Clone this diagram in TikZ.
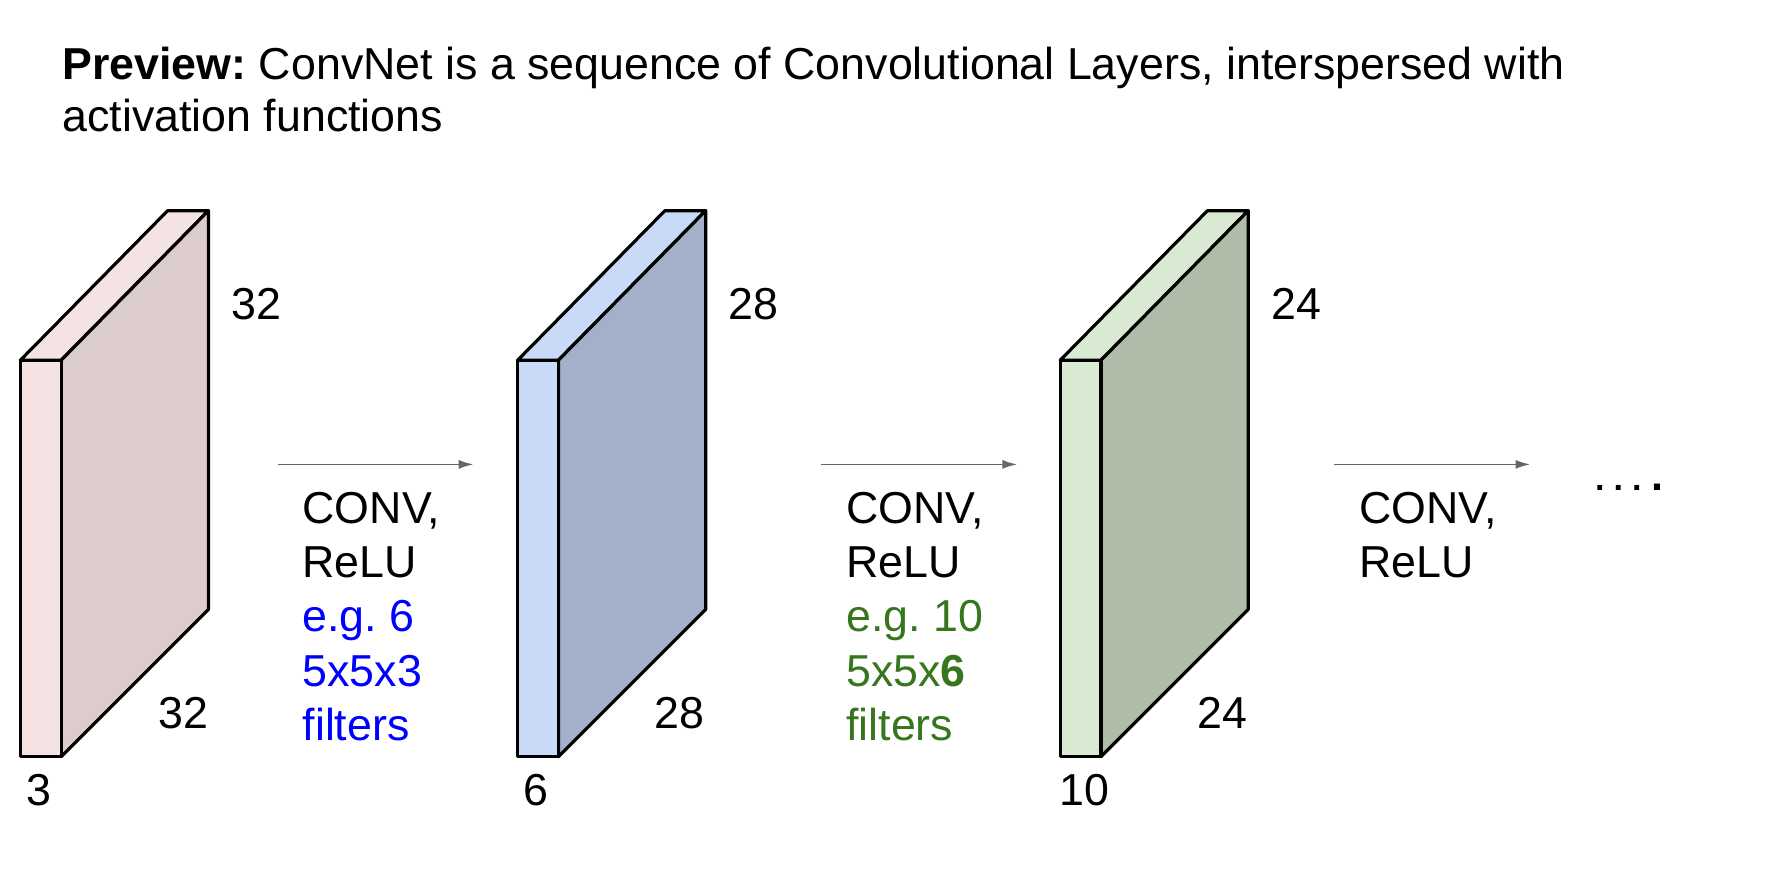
\documentclass[tikz,border=0pt]{standalone}
\usepackage{fontspec}
\setmainfont{Liberation Sans}
\usetikzlibrary{arrows.meta}
\definecolor{pf}{HTML}{F5E3E3}\definecolor{ps}{HTML}{DDCCCC}
\definecolor{bf}{HTML}{C9DAF8}\definecolor{bs}{HTML}{A2B0C8}
\definecolor{gf}{HTML}{D9EAD3}\definecolor{gs}{HTML}{AFBCA8}
\definecolor{tblue}{HTML}{0000FF}\definecolor{tgreen}{HTML}{38761D}
\definecolor{arr}{HTML}{666666}
\frenchspacing
\begin{document}
\begin{tikzpicture}[x=1pt,y=-1pt,
  edge/.style={draw=black,line width=2.8pt,line join=round},
  lbl/.style={anchor=base west,inner sep=0pt,font=\fontsize{39.5}{39.5}\selectfont},
  blk/.style={anchor=north west,inner sep=0pt,align=left,font=\fontsize{39.5}{48}\selectfont},
  flow/.style={draw=arr,line width=1.6pt,-{Latex[length=13pt,width=8pt]}}]
\useasboundingbox (0,0) rectangle (1560,773);
\node[anchor=base west,inner sep=0pt,font=\fontsize{39.5}{46}\selectfont] (title) at (55,70)
  {\textbf{Preview:} ConvNet is a sequence of Convolutional Layers, interspersed with};
\node[anchor=base west,inner sep=0pt,font=\fontsize{39.5}{46}\selectfont] (title2) at (55,116)
  {activation functions};
\foreach \x/\f/\s/\n in {18/pf/ps/a,457/bf/bs/b,936/gf/gs/c}{
  \filldraw[edge,fill=\f] (\x,318) -- (\x+130,186) -- (\x+166,186) -- (\x+36,318) -- cycle;
  \filldraw[edge,fill=\s] (\x+36,318) -- (\x+166,186) -- (\x+166,538) -- (\x+36,668) -- cycle;
  \filldraw[edge,fill=\f] (\x,318) rectangle (\x+36,668);
  \coordinate (\n) at (\x+166,410);
}
\node[lbl] (a1) at (204,282) {32}; \node[lbl] (a2) at (140,643) {32}; \node[lbl] (a3) at (23,711) {3};
\node[lbl] (b1) at (643,282) {28}; \node[lbl] (b2) at (578,643) {28}; \node[lbl] (b3) at (462,711) {6};
\node[lbl] (c1) at (1122,282) {24}; \node[lbl] (c2) at (1057,643) {24}; \node[lbl] (c3) at (935,711) {10};
\coordinate (s1) at (245,410); \coordinate (e1) at (418,410);
\coordinate (s2) at (725,410); \coordinate (e2) at (898,410);
\coordinate (s3) at (1178,410); \coordinate (e3) at (1351,410);
\draw[flow] (s1) -- (e1); \draw[flow] (s2) -- (e2); \draw[flow] (s3) -- (e3);
\node[blk] (t1) at (267,434) {CONV,\\ReLU\\\textcolor{tblue}{e.g. 6}\\\textcolor{tblue}{5x5x3}\\\textcolor{tblue}{filters}};
\node[blk] (t2) at (747,434) {CONV,\\ReLU\\\textcolor{tgreen}{e.g. 10}\\\textcolor{tgreen}{5x5x\textbf{6}}\\\textcolor{tgreen}{filters}};
\node[blk] (t3) at (1200,434) {CONV,\\ReLU};
\node[anchor=base west,inner sep=0pt,font=\fontsize{30}{30}\selectfont\bfseries] (dots) at (1408,433) {.\hspace{8pt}.\hspace{8pt}.\hspace{9pt}\fontsize{38}{38}\selectfont.};
\end{tikzpicture}
\end{document}
